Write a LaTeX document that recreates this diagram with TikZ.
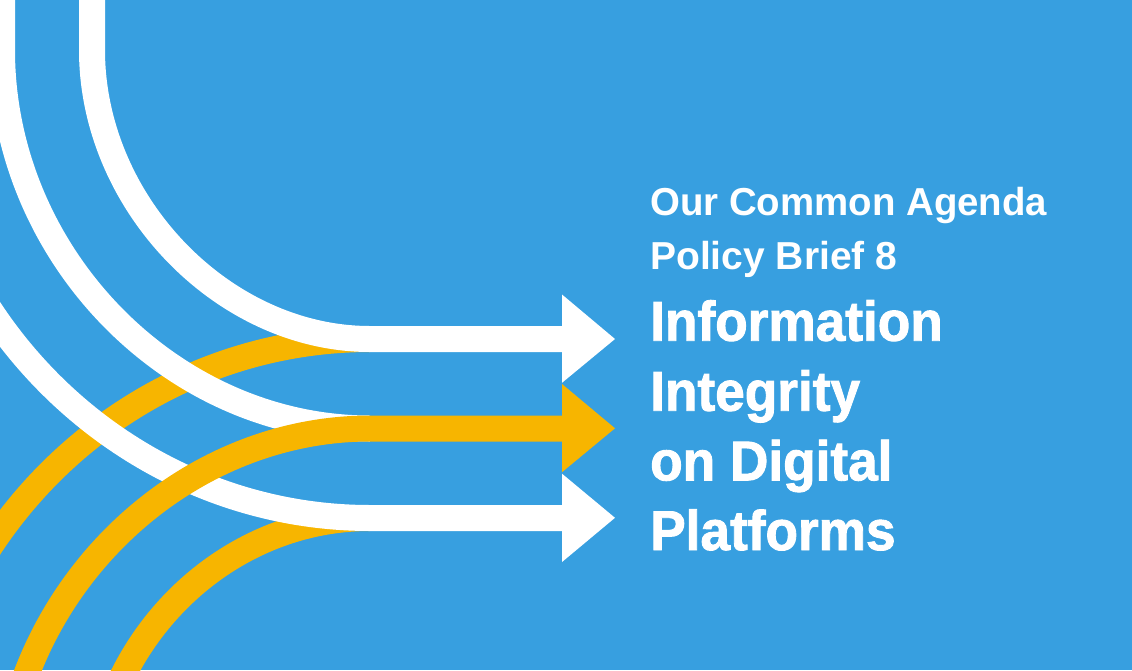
\documentclass[tikz,border=0pt]{standalone}
\usepackage{fontspec}
\setmainfont{Liberation Sans}[BoldFont={Liberation Sans Bold}]
\newfontfamily\smallface{Liberation Sans Bold}[FakeStretch=0.985]
\newfontfamily\smallwide{Liberation Sans Bold}[FakeStretch=1.0]
\newfontfamily\bigface{Liberation Sans Bold}[FakeStretch=0.95,FakeBold=1.6]
\definecolor{bgblue}{HTML}{379FE0}
\definecolor{bandorange}{HTML}{F7B500}
\tikzset{
  band/.style={line width=26pt, line cap=butt},
  head/.style={fill, draw=none},
  smalltext/.style={anchor=base west, inner sep=0pt, text=white, font=\fontsize{39}{39}\smallface},
  bigtext/.style={anchor=base west, inner sep=0pt, text=white, font=\fontsize{56}{56}\bigface}
}
\begin{document}
\begin{tikzpicture}[x=1pt,y=-1pt]
\useasboundingbox (0,0) rectangle (1132,670);
\clip (0,0) rectangle (1132,670);
\fill[bgblue] (0,0) rectangle (1132,670);
% orange, lower layer
\draw[band,bandorange] (370,339) .. controls (117,339) and (-88,550) .. (-88,807);
\draw[band,bandorange] (370,518) .. controls (218,518) and (92,649) .. (92,807);
% white bands
\draw[band,white] (562,339) -- (370,339) .. controls (223,339) and (92,203) .. (92,50) -- (92,-5);
\draw[band,white] (370,428.5) .. controls (171,428.5) and (2,254.4) .. (2,50) -- (2,-5);
\draw[band,white] (562,518) -- (370,518) .. controls (120,518) and (-88,309) .. (-88,50);
\fill[head,white] (562,294.5) -- (615,339) -- (562,382.8) -- cycle;
\fill[head,white] (562,473.7) -- (615,517.8) -- (562,562) -- cycle;
% orange, upper layer
\draw[band,bandorange] (562,428.5) -- (370,428.5) .. controls (171,428.5) and (2,602.6) .. (2,807);
\fill[head,bandorange] (562,384) -- (615,428.3) -- (562,472.2) -- cycle;
% text
\node[smalltext] (t1) at (650,215.7) {Our Common Agenda};
\node[smalltext,font=\fontsize{39}{39}\smallwide] (t2) at (650,269.3) {Policy Brief 8};
\node[bigtext] (t3) at (650,340.7) {Information};
\node[bigtext] (t4) at (650,410.7) {Integrity};
\node[bigtext] (t5) at (650,480.3) {on Digital};
\node[bigtext] (t6) at (650,550) {Platforms};
\end{tikzpicture}
\end{document}
